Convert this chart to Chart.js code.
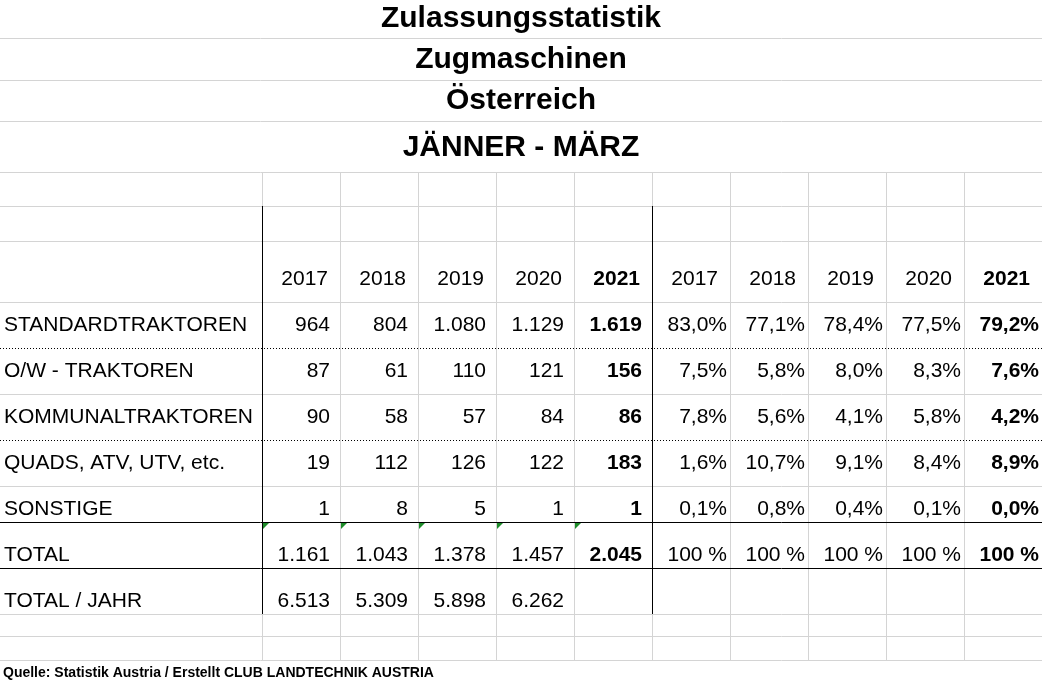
<!DOCTYPE html>
<html><head><meta charset="utf-8">
<script src="https://cdn.jsdelivr.net/npm/chart.js@4"></script>
<style>html,body{margin:0;padding:0;background:#fff}canvas{display:block}</style>
</head><body>
<canvas id="c" width="1042" height="685"></canvas>
<script>
const titleLines = ['Zulassungsstatistik','Zugmaschinen','Österreich','JÄNNER - MÄRZ'];
const years = ['2017','2018','2019','2020','2021'];
const categories = ['STANDARDTRAKTOREN','O/W - TRAKTOREN','KOMMUNALTRAKTOREN','QUADS, ATV, UTV, etc.','SONSTIGE','TOTAL','TOTAL / JAHR'];
const standard = [964,804,1080,1129,1619];
const owTraktoren = [87,61,110,121,156];
const kommunal = [90,58,57,84,86];
const quads = [19,112,126,122,183];
const sonstige = [1,8,5,1,1];
const total = [1161,1043,1378,1457,2045];
const totalJahr = [6513,5309,5898,6262];
const pctStandard = ['83,0%','77,1%','78,4%','77,5%','79,2%'];
const pctOW = ['7,5%','5,8%','8,0%','8,3%','7,6%'];
const pctKommunal = ['7,8%','5,6%','4,1%','5,8%','4,2%'];
const pctQuads = ['1,6%','10,7%','9,1%','8,4%','8,9%'];
const pctSonstige = ['0,1%','0,8%','0,4%','0,1%','0,0%'];
const pctTotal = ['100 %','100 %','100 %','100 %','100 %'];
const source = 'Quelle: Statistik Austria / Erstellt CLUB LANDTECHNIK AUSTRIA';

// layout (not data)
const colEdges = [0,262,340,418,496,574,652,730,808,886,964,1042];
const titleY = [19,60,101,148];
const headerY = 279;
const rowY = [325,371,417,463,509,555,601];
const grayH = [38,80,121,172,206,241,302,394,486,614,636,660];
const dottedH = [348,440];
const blackH = [522,568];
const F = '"Liberation Sans", Arial, sans-serif';

const fmt = v => v.toString().replace(/\B(?=(\d{3})+(?!\d))/g,'.');
const rowsCounts = [standard,owTraktoren,kommunal,quads,sonstige,total,totalJahr];
const rowsPct = [pctStandard,pctOW,pctKommunal,pctQuads,pctSonstige,pctTotal,null];

const tablePlugin = {
  id:'table',
  afterDraw(chart){
    const ctx = chart.ctx, X = chart.scales.x, Y = chart.scales.y;
    const px = v => X.getPixelForValue(v), py = v => Y.getPixelForValue(v);
    ctx.save();
    ctx.fillStyle='#fff'; ctx.fillRect(0,0,chart.width,chart.height);
    ctx.lineWidth=1;
    ctx.strokeStyle='#d4d4d4';
    grayH.forEach(y=>{ctx.beginPath();ctx.moveTo(px(0),py(y)+.5);ctx.lineTo(px(1042),py(y)+.5);ctx.stroke();});
    colEdges.slice(1,-1).forEach(x=>{ctx.beginPath();ctx.moveTo(px(x)+.5,py(172));ctx.lineTo(px(x)+.5,py(660));ctx.stroke();});
    ctx.strokeStyle='#000'; ctx.setLineDash([1,2]);
    dottedH.forEach(y=>{ctx.beginPath();ctx.moveTo(px(0),py(y)+.5);ctx.lineTo(px(1042),py(y)+.5);ctx.stroke();});
    ctx.setLineDash([]);
    blackH.forEach(y=>{ctx.beginPath();ctx.moveTo(px(0),py(y)+.5);ctx.lineTo(px(1042),py(y)+.5);ctx.stroke();});
    [262,652].forEach(x=>{ctx.beginPath();ctx.moveTo(px(x)+.5,py(206));ctx.lineTo(px(x)+.5,py(614));ctx.stroke();});
    ctx.fillStyle='#1e8c2a';
    for(let i=1;i<=5;i++){const x=px(colEdges[i])+1,y=py(522)+1;ctx.beginPath();ctx.moveTo(x,y);ctx.lineTo(x+6,y);ctx.lineTo(x,y+6);ctx.closePath();ctx.fill();}
    ctx.fillStyle='#000'; ctx.textBaseline='middle'; ctx.textAlign='center';
    ctx.font='bold 30px '+F;
    titleLines.forEach((t,i)=>ctx.fillText(t,px(521),py(titleY[i])));
    ctx.textAlign='right';
    years.forEach((yr,i)=>{
      ctx.font=(i===4?'bold ':'')+'21px '+F;
      ctx.fillText(yr,px(colEdges[i+2])-12,py(headerY));
      ctx.fillText(yr,px(colEdges[i+7])-12,py(headerY));
    });
    categories.forEach((c,r)=>{
      ctx.save();
      ctx.beginPath();ctx.rect(0,0,px(262),chart.height);ctx.clip();
      ctx.textAlign='left'; ctx.font='21px '+F;
      ctx.fillText(c,px(4),py(rowY[r]));
      ctx.restore();
      ctx.textAlign='right';
      rowsCounts[r].forEach((v,i)=>{
        ctx.font=(i===4?'bold ':'')+'21px '+F;
        ctx.fillText(fmt(v),px(colEdges[i+2])-10,py(rowY[r]));
      });
      if(rowsPct[r]) rowsPct[r].forEach((v,i)=>{
        ctx.font=(i===4?'bold ':'')+'21px '+F;
        ctx.fillText(v,px(colEdges[i+7])-3,py(rowY[r]));
      });
    });
    ctx.textAlign='left'; ctx.font='bold 14px '+F;
    ctx.fillText(source,px(3),py(673));
    ctx.restore();
  }
};

new Chart(document.getElementById('c'),{
  type:'scatter',
  data:{datasets:[{data:[],pointRadius:0}]},
  options:{responsive:false,animation:false,
    layout:{padding:0},
    plugins:{legend:{display:false},tooltip:{enabled:false}},
    scales:{x:{type:'linear',min:0,max:1042,display:false},
            y:{type:'linear',min:0,max:685,reverse:true,display:false}}},
  plugins:[tablePlugin]
});
</script>
</body></html>
